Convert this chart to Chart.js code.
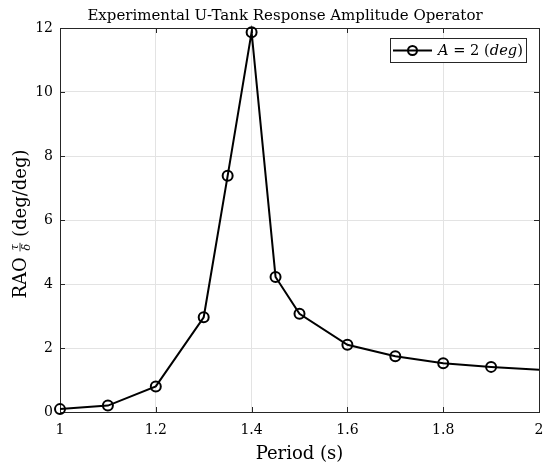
<!DOCTYPE html>
<html>
<head>
<meta charset="utf-8">
<script src="https://cdn.jsdelivr.net/npm/chart.js@4.4.0/dist/chart.umd.min.js"></script>
<style>
  html, body { margin: 0; padding: 0; background: #fff; }
  #wrap { width: 550px; height: 469px; }
</style>
</head>
<body>
<div id="wrap"><canvas id="rao" width="550" height="469"></canvas></div>
<script>
// period (s) and measured RAO (deg/deg); the last point sits past the x limit and is clipped
const periods = [1.0, 1.1, 1.2, 1.3, 1.35, 1.4, 1.45, 1.5, 1.6, 1.7, 1.8, 1.9, 2.1];
const rao = [0.09, 0.2, 0.8, 2.96, 7.38, 11.87, 4.22, 3.07, 2.1, 1.74, 1.52, 1.41, 1.23];
const xTicks = [1, 1.2, 1.4, 1.6, 1.8, 2];
const yTicks = [0, 2, 4, 6, 8, 10, 12];
const seriesLabel = 'A = 2 (deg)';
const titleText = 'Experimental U-Tank Response Amplitude Operator';

const SERIF = "'DejaVu Serif', serif";
const AXIS = '#262626';

// MATLAB-ish frame: box, inward ticks, title, y label with fraction, boxed legend
const matlabLook = {
    id: 'matlabLook',
    beforeDatasetsDraw(chart) {
        const { ctx, chartArea: a, scales } = chart;
        ctx.save();
        ctx.strokeStyle = AXIS;
        ctx.lineWidth = 1;
        ctx.beginPath();
        xTicks.forEach(v => {
            const x = Math.round(scales.x.getPixelForValue(v)) + 0.5;
            ctx.moveTo(x, a.bottom); ctx.lineTo(x, a.bottom - 5);
            ctx.moveTo(x, a.top); ctx.lineTo(x, a.top + 5);
        });
        yTicks.forEach(v => {
            const y = Math.round(scales.y.getPixelForValue(v)) + 0.5;
            ctx.moveTo(a.left, y); ctx.lineTo(a.left + 5, y);
            ctx.moveTo(a.right, y); ctx.lineTo(a.right - 5, y);
        });
        ctx.stroke();
        ctx.strokeRect(Math.round(a.left) + 0.5, Math.round(a.top) + 0.5,
            Math.round(a.right - a.left), Math.round(a.bottom - a.top));
        ctx.restore();
    },
    afterDraw(chart) {
        const { ctx, chartArea: a } = chart;
        ctx.save();
        ctx.fillStyle = '#000';

        // title
        ctx.font = '15px ' + SERIF;
        ctx.textAlign = 'center';
        ctx.textBaseline = 'alphabetic';
        ctx.fillText(titleText, 285, 20);

        // y axis label: RAO tau/delta (deg/deg)
        const big = '18px ' + SERIF;
        const small = 'italic 11px ' + SERIF;
        ctx.font = big;
        const w1 = ctx.measureText('RAO ').width;
        const w3 = ctx.measureText(' (deg/deg)').width;
        ctx.font = small;
        const fw = Math.max(ctx.measureText('τ').width, ctx.measureText('δ').width) + 2;
        const total = w1 + fw + w3;
        ctx.translate(26, (a.top + a.bottom) / 2 + 4);
        ctx.rotate(-Math.PI / 2);
        let x = -total / 2;
        ctx.textAlign = 'left';
        ctx.font = big;
        ctx.fillText('RAO ', x, 0);
        x += w1;
        const bar = -6;
        ctx.font = small;
        ctx.textAlign = 'center';
        ctx.fillText('τ', x + fw / 2, bar - 2);
        ctx.textBaseline = 'top';
        ctx.fillText('δ', x + fw / 2, bar + 1.5);
        ctx.fillRect(x, bar - 0.4, fw, 0.8);
        x += fw;
        ctx.textAlign = 'left';
        ctx.textBaseline = 'alphabetic';
        ctx.font = big;
        ctx.fillText(' (deg/deg)', x, 0);
        ctx.restore();

        // legend
        ctx.save();
        const lx = 390.5, ly = 38.5, lw = 136, lh = 24;
        ctx.fillStyle = '#fff';
        ctx.fillRect(lx, ly, lw, lh);
        ctx.strokeStyle = AXIS;
        ctx.lineWidth = 1;
        ctx.strokeRect(lx, ly, lw, lh);
        const cy = ly + lh / 2;
        ctx.strokeStyle = '#000';
        ctx.lineWidth = 2;
        ctx.beginPath();
        ctx.moveTo(393, cy); ctx.lineTo(432, cy);
        ctx.stroke();
        ctx.beginPath();
        ctx.arc(412.5, cy, 4.5, 0, Math.PI * 2);
        ctx.stroke();
        // A = 2 (deg) with math italics, sized to fit the box
        const parts = [
            ['A', 'italic'],
            [' = 2 (', ''],
            ['deg', 'italic'],
            [')', '']
        ];
        const fontFor = (style, size) => (style ? style + ' ' : '') + size + 'px ' + SERIF;
        let tw = 0;
        parts.forEach(([t, st]) => { ctx.font = fontFor(st, 16); tw += ctx.measureText(t).width; });
        const fs = Math.min(16, 16 * 85 / tw);
        let tx = 438;
        ctx.fillStyle = '#000';
        ctx.textBaseline = 'middle';
        ctx.textAlign = 'left';
        parts.forEach(([t, st]) => {
            ctx.font = fontFor(st, fs);
            ctx.fillText(t, tx, cy + 1);
            tx += ctx.measureText(t).width;
        });
        ctx.restore();
    }
};

new Chart(document.getElementById('rao'), {
    type: 'line',
    data: {
        datasets: [{
            label: seriesLabel,
            data: periods.map((p, i) => ({ x: p, y: rao[i] })),
            borderColor: '#000',
            borderWidth: 2,
            pointRadius: 5,
            pointBorderWidth: 2,
            pointBorderColor: '#000',
            pointBackgroundColor: 'rgba(0,0,0,0)',
            tension: 0,
            clip: { left: 10, top: 10, right: 0, bottom: 10 }
        }]
    },
    options: {
        responsive: false,
        animation: false,
        layout: { padding: { left: 0, top: 28, right: 11, bottom: 0 } },
        plugins: {
            legend: { display: false },
            tooltip: { enabled: false },
            title: { display: false }
        },
        scales: {
            x: {
                type: 'linear',
                min: 1,
                max: 2,
                afterFit: s => { s.height = 57; s.paddingLeft = 0; s.paddingRight = 0; },
                afterBuildTicks: s => { s.ticks = xTicks.map(v => ({ value: v })); },
                grid: { color: '#e3e3e3', drawTicks: false },
                border: { display: false },
                ticks: {
                    padding: 10,
                    color: '#000',
                    font: { family: SERIF, size: 14 },
                    callback: v => String(Number(v.toFixed(1)))
                },
                title: {
                    display: true,
                    text: 'Period (s)',
                    color: '#000',
                    font: { family: SERIF, size: 18 },
                    padding: { top: 2 }
                }
            },
            y: {
                min: 0,
                max: 12,
                afterFit: s => { s.width = 60; s.paddingTop = 0; s.paddingBottom = 0; },
                afterBuildTicks: s => { s.ticks = yTicks.map(v => ({ value: v })); },
                grid: { color: '#e3e3e3', drawTicks: false },
                border: { display: false },
                ticks: {
                    padding: 7,
                    color: '#000',
                    font: { family: SERIF, size: 14 }
                }
            }
        }
    },
    plugins: [matlabLook]
});
</script>
</body>
</html>
